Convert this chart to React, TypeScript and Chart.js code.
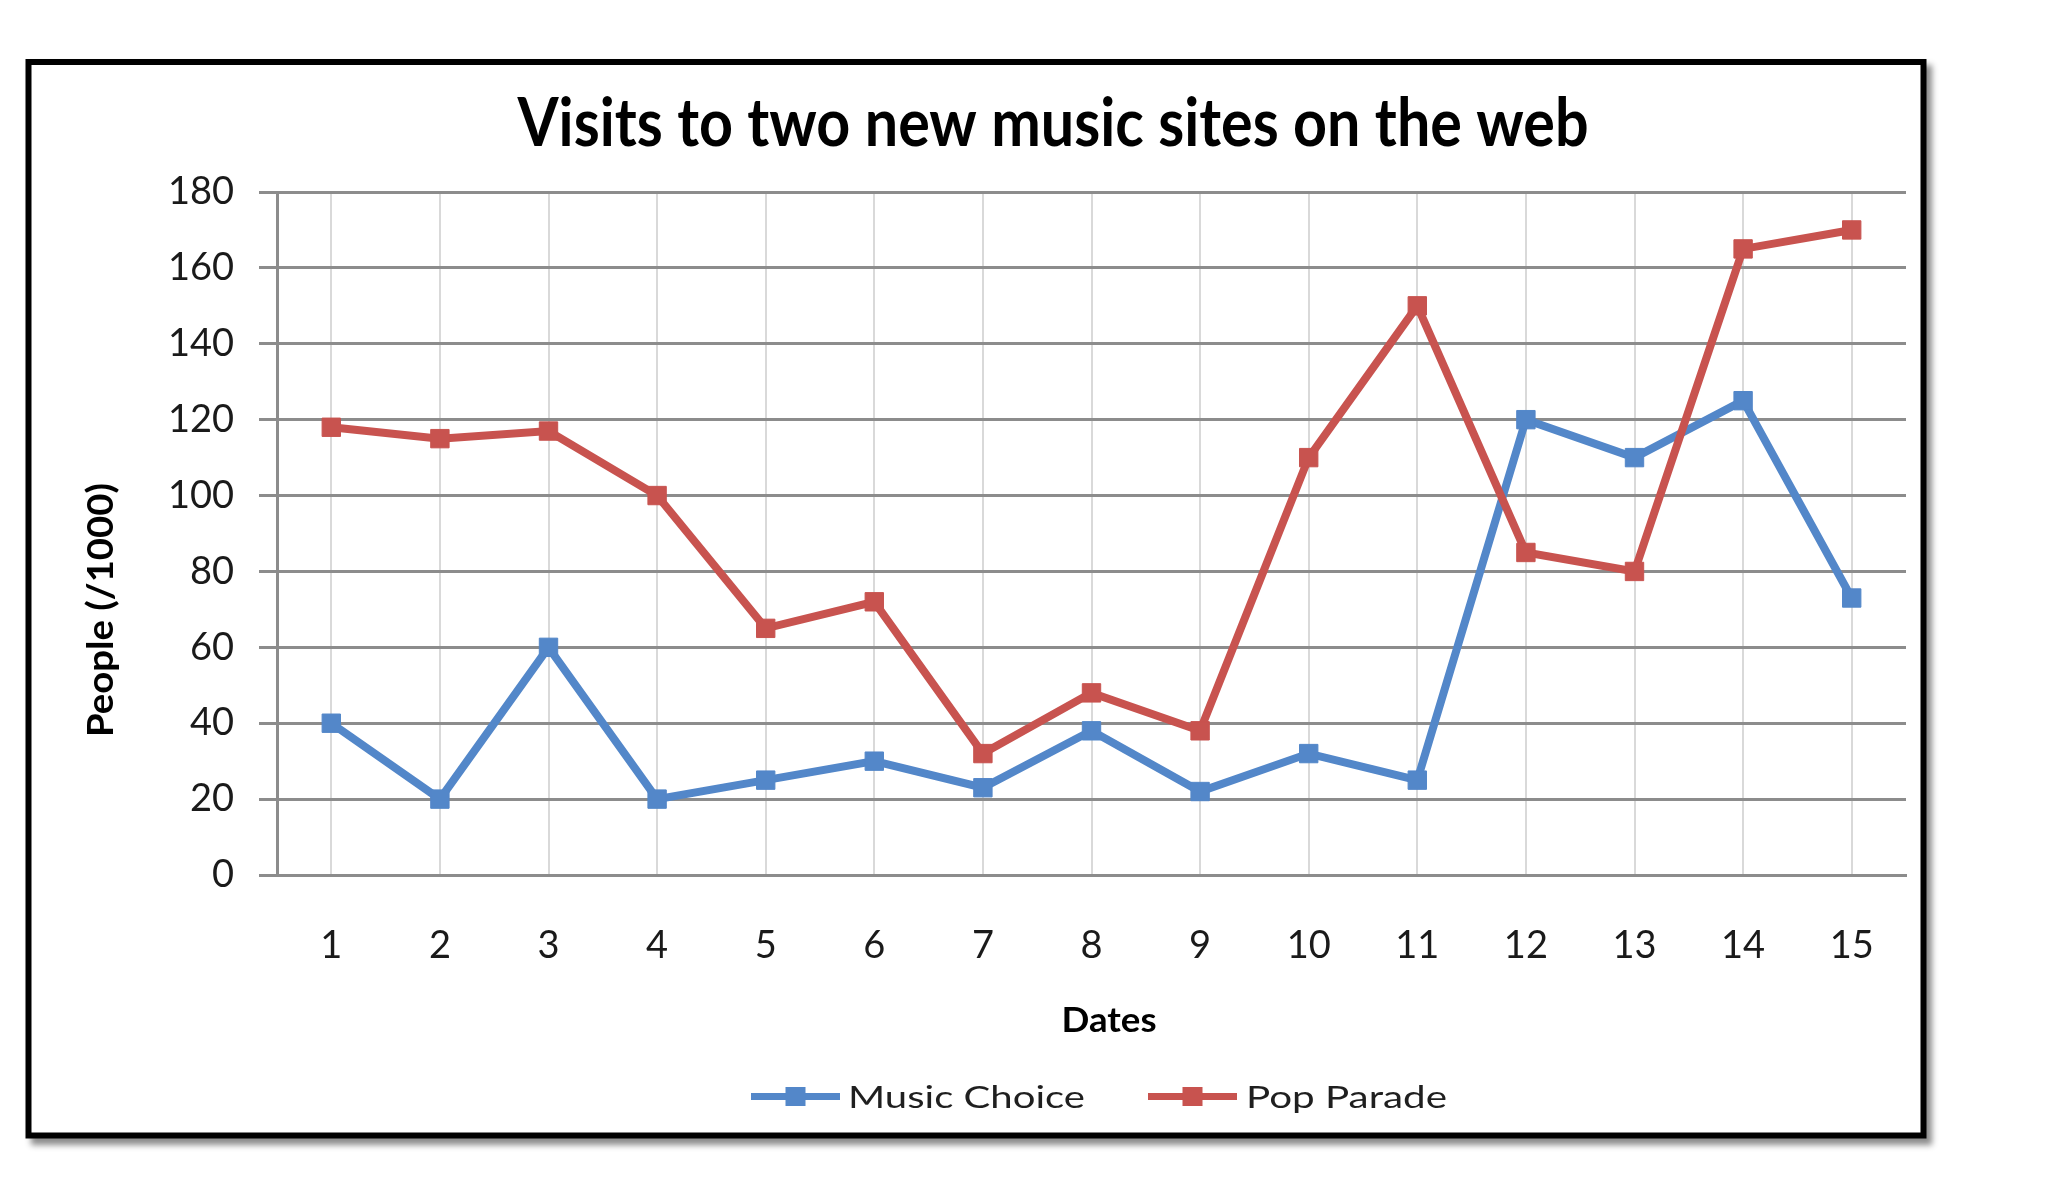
import React, { useEffect, useRef } from 'react';
import { Chart, registerables } from 'chart.js';

Chart.register(...registerables);

// ---- data ----
const dates = ['1', '2', '3', '4', '5', '6', '7', '8', '9', '10', '11', '12', '13', '14', '15'];
const musicChoice = [40, 20, 60, 20, 25, 30, 23, 38, 22, 32, 25, 120, 110, 125, 73];
const popParade = [118, 115, 117, 100, 65, 72, 32, 48, 38, 110, 150, 85, 80, 165, 170];
const seriesNames = ['Music Choice', 'Pop Parade'];
const seriesColors = ['#5387C9', '#C8534F'];
const yMin = 0;
const yMax = 180;
const yStep = 20;
const chartTitle = 'Visits to two new music sites on the web';
const xTitle = 'Dates';
const yTitle = 'People (/1000)';

function drawFitText(
  ctx: CanvasRenderingContext2D,
  text: string,
  x: number,
  y: number,
  font: string,
  targetWidth: number,
  align: CanvasTextAlign,
  color: string,
  rotate = 0
) {
  ctx.save();
  ctx.font = font;
  const w = ctx.measureText(text).width;
  const sx = targetWidth / w;
  ctx.translate(x, y);
  if (rotate) ctx.rotate(rotate);
  ctx.scale(sx, 1);
  ctx.textAlign = align;
  ctx.textBaseline = 'alphabetic';
  ctx.fillStyle = color;
  ctx.fillText(text, 0, 0);
  ctx.restore();
}

const framePlugin = {
  id: 'frame',
  beforeDraw(chart: any) {
    const ctx: CanvasRenderingContext2D = chart.ctx;
    ctx.save();
    ctx.fillStyle = '#ffffff';
    ctx.fillRect(0, 0, chart.width, chart.height);
    ctx.shadowColor = 'rgba(0,0,0,0.45)';
    ctx.shadowBlur = 6;
    ctx.shadowOffsetX = 5;
    ctx.shadowOffsetY = 6;
    ctx.fillStyle = '#000000';
    ctx.fillRect(25.5, 59, 1901, 1079.5);
    ctx.shadowColor = 'transparent';
    ctx.fillStyle = '#ffffff';
    ctx.fillRect(31.5, 65, 1889, 1067.5);
    ctx.restore();
  },
};

const textPlugin = {
  id: 'texts',
  afterDraw(chart: any) {
    const ctx: CanvasRenderingContext2D = chart.ctx;
    drawFitText(ctx, chartTitle, 1053, 146, 'bold 67px Lato', 1071, 'center', '#000000');
    drawFitText(ctx, xTitle, 1109, 1032, 'bold 35px Lato', 95, 'center', '#000000');
    drawFitText(ctx, yTitle, 113, 610, 'bold 37px Lato', 254, 'center', '#000000', -Math.PI / 2);

    const items = [
      { lx0: 751, lx1: 840, tx: 848, tw: 237 },
      { lx0: 1148, lx1: 1237, tx: 1246, tw: 201 },
    ];
    const ly = 1096.5;
    items.forEach((it, i) => {
      const c = seriesColors[i];
      ctx.save();
      ctx.strokeStyle = c;
      ctx.lineWidth = 7;
      ctx.beginPath();
      ctx.moveTo(it.lx0, ly);
      ctx.lineTo(it.lx1, ly);
      ctx.stroke();
      ctx.fillStyle = c;
      const mx = (it.lx0 + it.lx1) / 2;
      ctx.fillRect(mx - 10, ly - 9.5, 20, 19);
      ctx.restore();
      drawFitText(ctx, seriesNames[i], it.tx, 1108, '30px Lato', it.tw, 'left', '#1f1f1f');
    });
  },
};

export default function App() {
  const ref = useRef<HTMLCanvasElement>(null);

  useEffect(() => {
    const canvas = ref.current;
    if (!canvas) return;
    const tickFont = { family: 'Lato', size: 38 };
    const mkDataset = (i: number, data: number[], order: number) => ({
      label: seriesNames[i],
      data,
      borderColor: seriesColors[i],
      backgroundColor: seriesColors[i],
      borderWidth: 8,
      pointStyle: 'rect',
      pointRadius: 13,
      pointBorderWidth: 1,
      pointBackgroundColor: seriesColors[i],
      pointBorderColor: seriesColors[i],
      tension: 0,
      order,
      clip: false as any,
    });
    const chart = new Chart(canvas, {
      type: 'line',
      data: {
        labels: dates,
        datasets: [mkDataset(0, musicChoice, 1), mkDataset(1, popParade, 0)],
      },
      options: {
        responsive: false,
        devicePixelRatio: 1,
        animation: false,
        events: [],
        layout: { padding: { left: 140, top: 192, right: 142, bottom: 195 } },
        plugins: {
          legend: { display: false },
          title: { display: false },
          tooltip: { enabled: false },
        },
        scales: {
          x: {
            type: 'category',
            offset: true,
            grid: { offset: false, color: '#d9d9d9', lineWidth: 2, drawTicks: false },
            border: { display: true, color: '#8c8c8c', width: 3 },
            ticks: {
              font: tickFont,
              color: '#1a1a1a',
              padding: 48,
              maxRotation: 0,
              autoSkip: false,
            },
            afterFit: (s: any) => {
              s.height = 120;
            },
          },
          y: {
            min: yMin,
            max: yMax,
            ticks: { stepSize: yStep, font: tickFont, color: '#1a1a1a', padding: 25 },
            grid: { color: '#8c8c8c', lineWidth: 3, tickLength: 18, drawTicks: true },
            border: { display: true, color: '#8c8c8c', width: 3 },
            afterFit: (s: any) => {
              s.width = 137;
            },
          },
        },
      },
      plugins: [framePlugin, textPlugin],
    } as any);
    return () => chart.destroy();
  }, []);

  return (
    <div
      style={{
        position: 'fixed',
        left: 0,
        top: 0,
        width: 2048,
        height: 1190,
        background: '#ffffff',
        overflow: 'hidden',
      }}
    >
      <canvas
        ref={ref}
        width={2048}
        height={1190}
        style={{ display: 'block', width: '2048px', height: '1190px' }}
      />
    </div>
  );
}
